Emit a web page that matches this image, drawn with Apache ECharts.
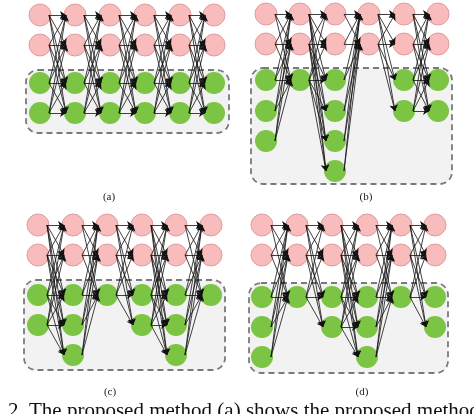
<!DOCTYPE html>
<html>
<head>
<meta charset="utf-8">
<script src="https://cdn.jsdelivr.net/npm/echarts@6/dist/echarts.min.js"></script>
<style>html,body{margin:0;padding:0;background:#fff}#main{width:474px;height:414px}</style>
</head>
<body>
<div id="main"></div>
<script>
// panel names
var panelNames = ['(a)', '(b)', '(c)', '(d)'];
// column centres of each panel
var columnX = [
	[40, 75, 110, 145, 180, 214],
	[266, 300, 335, 369, 404, 438],
	[38, 73, 107, 142, 176, 211],
	[262, 297, 332, 367, 401, 435]
];
// pink rows
var pinkY = [[15, 45], [14, 44], [225, 255], [225, 255]];
// green row positions
var greenY = [[83, 113], [80, 111, 141, 171], [295, 325, 355], [297, 327, 357]];
// which green rows exist in each column
var greenRows = [
	[[0, 1], [0, 1], [0, 1], [0, 1], [0, 1], [0, 1]],
	[[0, 1, 2], [0], [0, 1, 2, 3], [], [0, 1], [0, 1]],
	[[0, 1], [0, 1, 2], [0], [0, 1], [0, 1, 2], [0]],
	[[0, 1, 2], [0], [0, 1], [0, 1, 2], [0], [0, 1]]
];
// dashed boxes [x1, y1, x2, y2]
var boxes = [[26, 70, 229, 133], [251, 68, 452, 184], [24, 280, 225, 370], [249, 283, 448, 373]];
var labelPos = [[109, 197], [366, 197], [110, 392], [362, 392]];
var caption = '2. The proposed method (a) shows the proposed method';

var R = 11;
var pinkData = [], greenData = [], edgeData = [];

for (var p = 0; p < 4; p++) {
	var cols = [];
	for (var c = 0; c < 6; c++) {
		var nodes = [];
		for (var k = 0; k < pinkY[p].length; k++) {
			nodes.push([columnX[p][c], pinkY[p][k]]);
			pinkData.push([columnX[p][c], pinkY[p][k]]);
		}
		var g = greenRows[p][c];
		for (var k = 0; k < g.length; k++) {
			nodes.push([columnX[p][c], greenY[p][g[k]]]);
			greenData.push([columnX[p][c], greenY[p][g[k]]]);
		}
		cols.push(nodes);
	}
	// every node feeds every node of the next column
	for (var c = 0; c < 5; c++) {
		cols[c].forEach(function(a) {
			cols[c + 1].forEach(function(b) {
				edgeData.push({ coords : [[a[0] + R - 2, a[1]], [b[0] - R + 2, b[1]]] });
			});
		});
	}
}

var chart = echarts.init(document.getElementById('main'));
chart.setOption({
	animation : false,
	grid : { left : 0, right : 0, top : 0, bottom : 0 },
	xAxis : { type : 'value', min : 0, max : 474, show : false },
	yAxis : { type : 'value', min : 0, max : 414, inverse : true, show : false },
	graphic : labelPos.map(function(lp, i) {
		return {
			type : 'text', x : lp[0], y : lp[1],
			style : { text : panelNames[i], font : '11px "Liberation Serif"', fill : '#222', align : 'center', verticalAlign : 'middle' }
		};
	}).concat([{
		type : 'text', x : 8, y : 401,
		style : { text : caption, font : '21px "Liberation Serif"', fill : '#111' }
	}]),
	series : [ {
		type : 'custom',
		z : 1,
		data : boxes,
		renderItem : function(params, api) {
			var p1 = api.coord([api.value(0), api.value(1)]);
			var p2 = api.coord([api.value(2), api.value(3)]);
			return {
				type : 'rect',
				shape : { x : p1[0], y : p1[1], width : p2[0] - p1[0], height : p2[1] - p1[1], r : 12 },
				style : { fill : '#f2f2f2', stroke : '#7a7a7a', lineWidth : 1.8, lineDash : [6, 4] }
			};
		},
		encode : { x : [0, 2], y : [1, 3] }
	}, {
		type : 'scatter',
		z : 2,
		symbolSize : 2 * R,
		itemStyle : { color : '#f8bcbc', borderColor : '#e09a9a', borderWidth : 1, opacity : 1 },
		data : pinkData
	}, {
		type : 'scatter',
		z : 2,
		symbolSize : 2 * R,
		itemStyle : { color : '#7cc444', opacity : 1 },
		data : greenData
	}, {
		type : 'lines',
		coordinateSystem : 'cartesian2d',
		z : 3,
		symbol : ['none', 'arrow'],
		symbolSize : 6,
		lineStyle : { color : '#111', width : 0.8, opacity : 1 },
		data : edgeData
	} ]
});
</script>
</body>
</html>
